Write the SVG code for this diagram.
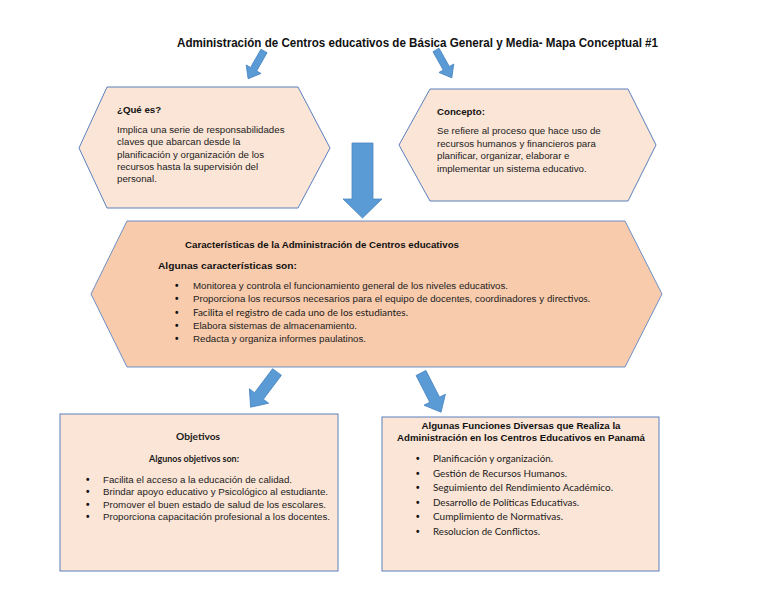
<svg xmlns="http://www.w3.org/2000/svg" width="768" height="594" viewBox="0 0 768 594">
<defs>
<style>
.bg{fill:#ffffff}
.light{fill:#fbe5d6;stroke:#5a80bd;stroke-width:1}
.mid{fill:#f8cbad;stroke:#6e8fc6;stroke-width:1}
.arrow{fill:#5b9bd5;stroke:#4a86c2;stroke-width:0.8}
.t{font-family:"Liberation Sans",Arial,sans-serif;font-size:9.7px;fill:#222}
.b{font-weight:bold;fill:#111}
.c{font-family:Lato,"Liberation Sans",sans-serif;font-size:10.2px;fill:#1a1a1a}
.bul{font-family:"Liberation Sans",Arial,sans-serif;font-size:10px;font-weight:bold;fill:#111}
.title{font-family:"Liberation Sans",Arial,sans-serif;font-size:12.5px;font-weight:bold;fill:#111}
.mid-anchor{text-anchor:middle}
</style>
<path id="arrowS" d="M-3.5 0 L3.5 0 L3.5 21 L8.5 21 L0 32 L-8.5 21 L-3.5 21 Z"/>
<path id="arrowL" d="M-5.5 0 L5.5 0 L5.5 30 L12 30 L0 44 L-12 30 L-5.5 30 Z"/>
</defs>
<rect class="bg" x="0" y="0" width="768" height="594"/>

<g id="title">
<text class="title" x="177" y="47" textLength="481" lengthAdjust="spacingAndGlyphs">Administración de Centros educativos de Básica General y Media- Mapa Conceptual #1</text>
</g>

<g id="connectors">
<use href="#arrowS" class="arrow" transform="translate(264 51) rotate(29.7)"/>
<use href="#arrowS" class="arrow" transform="translate(436 50) rotate(-29.5)"/>
<path class="arrow" d="M352 143 H373 V199 H382 L362.5 218 L343 199 H352 Z"/>
<use href="#arrowL" class="arrow" transform="translate(277 372) rotate(36.9)"/>
<use href="#arrowL" class="arrow" transform="translate(421 373) rotate(-27.1)"/>
</g>

<g id="node-que-es">
<polygon class="light" points="107,87 298,87 330,148 298,208 107,208 79,148"/>
<text class="t b" x="117" y="113" font-size="10">¿Qué es?</text>
<text class="t" x="117" y="133">Implica una serie de responsabilidades</text>
<text class="t" x="117" y="145">claves que abarcan desde la</text>
<text class="t" x="117" y="157.5">planificación y organización de los</text>
<text class="t" x="117" y="170">recursos hasta la supervisión del</text>
<text class="t" x="117" y="182">personal.</text>
</g>

<g id="node-concepto">
<polygon class="light" points="430,89 628,89 656,145 628,201 430,201 399,145"/>
<text class="t b" x="437" y="115">Concepto:</text>
<text class="t" x="437" y="134">Se refiere al proceso que hace uso de</text>
<text class="t" x="437" y="146.5">recursos humanos y financieros para</text>
<text class="t" x="437" y="159">planificar, organizar, elaborar e</text>
<text class="t" x="437" y="171.5">implementar un sistema educativo.</text>
</g>

<g id="node-caracteristicas">
<polygon class="mid" points="127,221 625,221 662,294 625,367 127,367 91,294"/>
<text class="t b" x="185" y="248" textLength="274" lengthAdjust="spacingAndGlyphs">Características de la Administración de Centros educativos</text>
<text class="t b" x="158" y="269" textLength="139" lengthAdjust="spacingAndGlyphs">Algunas características son:</text>
<text class="bul" x="175" y="289">•</text>
<text class="t" x="193" y="289" textLength="315" lengthAdjust="spacingAndGlyphs">Monitorea y controla el funcionamiento general de los niveles educativos.</text>
<text class="bul" x="175" y="302">•</text>
<text class="t" x="193" y="302" textLength="351" lengthAdjust="spacingAndGlyphs">Proporciona los recursos necesarios para el equipo de docentes, coordinadores y</text>
<text class="t c" x="547" y="302" textLength="43" lengthAdjust="spacingAndGlyphs">directivos.</text>
<text class="bul" x="175" y="316">•</text>
<text class="t c" x="193" y="316" textLength="215" lengthAdjust="spacingAndGlyphs">Facilita el registro de cada uno de los estudiantes.</text>
<text class="bul" x="175" y="329">•</text>
<text class="t" x="193" y="329" textLength="164" lengthAdjust="spacingAndGlyphs">Elabora sistemas de almacenamiento.</text>
<text class="bul" x="175" y="342">•</text>
<text class="t" x="193" y="342" textLength="173" lengthAdjust="spacingAndGlyphs">Redacta y organiza informes paulatinos.</text>
</g>

<g id="node-objetivos">
<rect class="light" x="60" y="414" width="278" height="157"/>
<text class="t c b mid-anchor" x="198" y="440" font-size="10">Objetivos</text>
<text class="t c b mid-anchor" x="194" y="462" font-size="10" textLength="90" lengthAdjust="spacingAndGlyphs">Algunos objetivos son:</text>
<text class="bul" x="86" y="483">•</text>
<text class="t" x="103" y="483" textLength="189" lengthAdjust="spacingAndGlyphs">Facilita el acceso a la educación de calidad.</text>
<text class="bul" x="86" y="495">•</text>
<text class="t" x="103" y="495" textLength="225" lengthAdjust="spacingAndGlyphs">Brindar apoyo educativo y Psicológico al estudiante.</text>
<text class="bul" x="86" y="507.5">•</text>
<text class="t" x="103" y="507.5" textLength="223" lengthAdjust="spacingAndGlyphs">Promover el buen estado de salud de los escolares.</text>
<text class="bul" x="86" y="520">•</text>
<text class="t" x="103" y="520" textLength="227" lengthAdjust="spacingAndGlyphs">Proporciona capacitación profesional a los docentes.</text>
</g>

<g id="node-funciones">
<rect class="light" x="382" y="417" width="277" height="154"/>
<text class="t b mid-anchor" x="521" y="429" textLength="199" lengthAdjust="spacingAndGlyphs">Algunas Funciones Diversas que Realiza la</text>
<text class="t b mid-anchor" x="521" y="441" textLength="248" lengthAdjust="spacingAndGlyphs">Administración en los Centros Educativos en Panamá</text>
<text class="bul" x="416" y="462">•</text>
<text class="t c" x="433" y="462" textLength="120" lengthAdjust="spacingAndGlyphs">Planificación y organización.</text>
<text class="bul" x="416" y="476.5">•</text>
<text class="t c" x="433" y="476.5" textLength="134" lengthAdjust="spacingAndGlyphs">Gestión de Recursos Humanos.</text>
<text class="bul" x="416" y="491">•</text>
<text class="t c" x="433" y="491" textLength="180" lengthAdjust="spacingAndGlyphs">Seguimiento del Rendimiento Académico.</text>
<text class="bul" x="416" y="505.5">•</text>
<text class="t c" x="433" y="505.5" textLength="146" lengthAdjust="spacingAndGlyphs">Desarrollo de Políticas Educativas.</text>
<text class="bul" x="416" y="520">•</text>
<text class="t c" x="433" y="520" textLength="130" lengthAdjust="spacingAndGlyphs">Cumplimiento de Normativas.</text>
<text class="bul" x="416" y="535">•</text>
<text class="t c" x="433" y="535" textLength="107" lengthAdjust="spacingAndGlyphs">Resolucion de Conflictos.</text>
</g>
</svg>
